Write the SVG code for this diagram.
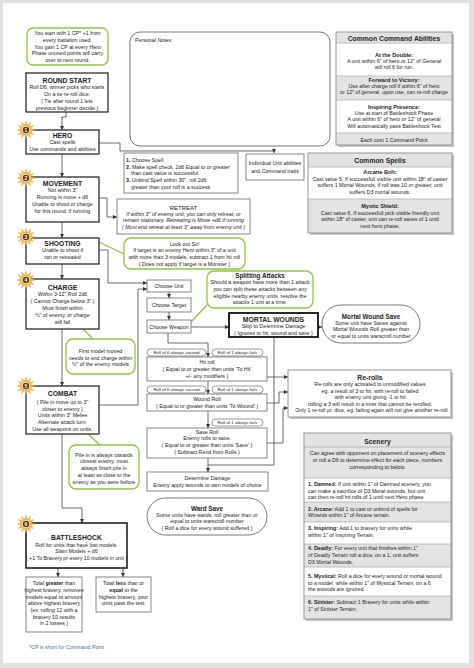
<svg xmlns="http://www.w3.org/2000/svg" width="474" height="668" viewBox="0 0 474 668">
<style>
text{font-family:"Liberation Sans",Arial,Helvetica,sans-serif;font-size:5.3px;fill:#222;text-anchor:middle}
.l{text-anchor:start}
.h{font-size:6.8px;font-weight:bold}
.h2{font-size:5.6px;font-weight:bold}
.b{font-weight:bold}
.i{font-style:italic}
.pill{font-size:4.4px}
.box{fill:#fff;stroke:#1a1a1a;stroke-width:1.2}
.gb{fill:#fff;stroke:#666;stroke-width:0.8}
.tb{fill:none;stroke:#8a8a8a;stroke-width:0.9}
.row{fill:#e3e3e3}
.div{stroke:#9a9a9a;stroke-width:0.6}
.gr{fill:#fff;stroke:#8dc63f;stroke-width:1.3}
.con{fill:none;stroke:#444;stroke-width:0.8}
.gl{fill:none;stroke:#8dc63f;stroke-width:1.3}
.sh{fill:#c4c4c4}
.num{font-size:5px;font-weight:bold;fill:#fff}
.cp{fill:#3d6ea6}
</style>
<defs>
<marker id="a" markerWidth="4" markerHeight="4" refX="4" refY="2" orient="auto" markerUnits="userSpaceOnUse"><path d="M0,0 L4,2 L0,4z" fill="#333"/></marker>
<g id="sun">
<polygon points="9,0 4.83,1.29 7.79,4.5 3.54,3.54 4.5,7.79 1.29,4.83 0,9 -1.29,4.83 -4.5,7.79 -3.54,3.54 -7.79,4.5 -4.83,1.29 -9,0 -4.83,-1.29 -7.79,-4.5 -3.54,-3.54 -4.5,-7.79 -1.29,-4.83 0,-9 1.29,-4.83 4.5,-7.79 3.54,-3.54 7.79,-4.5 4.83,-1.29" fill="#f6c35c" stroke="#e09530" stroke-width="0.4"/>
<circle r="4.8" fill="#fbe3a0" stroke="#c98220" stroke-width="0.5"/>
<circle r="3.2" fill="#5b3a12"/>
</g>
</defs>
<rect width="474" height="668" fill="#e1e1e1"/>
<rect x="3" y="3" width="466" height="660" fill="#fff"/>

<g id="connectors">
<path class="con" d="M66,112 V117 H62 V130" marker-end="url(#a)"/>
<path class="con" d="M99,143 H120 V151 H274 V153" marker-end="url(#a)"/>
<path class="con" d="M62,154 V177" marker-end="url(#a)"/>
<path class="con" d="M62,222 V238" marker-end="url(#a)"/>
<path class="con" d="M62,264 V279" marker-end="url(#a)"/>
<path class="con" d="M62,329 V386" marker-end="url(#a)"/>
<path class="con" d="M62,434 V508 H82 V523" marker-end="url(#a)"/>
<path class="con" d="M99,198 H107 V217 H117" marker-end="url(#a)"/>
<path class="con" d="M99,250 H108 V283 H147" marker-end="url(#a)"/>
<path class="con" d="M99,405 H138 V289 H147" marker-end="url(#a)"/>
<path class="con" d="M169,292 V298" marker-end="url(#a)"/>
<path class="con" d="M169,312 V320" marker-end="url(#a)"/>
<path class="con" d="M168,333 V343 H208 V357" marker-end="url(#a)"/>
<path class="con" d="M191,327 H229" stroke="#888" marker-end="url(#a)"/>
<path class="con" d="M318,327 H322" marker-end="url(#a)"/>
<path class="con" d="M208,381 V394" marker-end="url(#a)"/>
<path class="con" d="M208,411 V428" marker-end="url(#a)"/>
<path class="con" d="M208,458 V472" marker-end="url(#a)"/>
<path class="con" d="M274,337 V465 H208"/>
<path class="con" d="M267,377 H288" marker-end="url(#a)"/>
<path class="con" d="M267,403 H279 V392 H288" marker-end="url(#a)"/>
<path class="con" d="M267,443 H283 V408 H288" marker-end="url(#a)"/>
<path class="con" d="M58,568 V577" marker-end="url(#a)"/>
<path class="con" d="M123,568 V577" marker-end="url(#a)"/>
<path class="gl" d="M99,242 L124,254"/>
<path class="gl" d="M191,322 L207,305"/>
<path class="gl" d="M83,329 L93,339"/>
<path class="gl" d="M88,434 L100,445"/>
</g>

<g id="cp-note">
<rect class="gr" x="27" y="28" width="81" height="37" rx="6"/>
<text x="67.5" y="35">You start with 1 CP* +1 from</text>
<text x="67.5" y="42">every battalion used.</text>
<text x="67.5" y="48.5">You gain 1 CP at every Hero</text>
<text x="67.5" y="55">Phase unused points will carry</text>
<text x="67.5" y="62">over to next round.</text>
</g>

<g id="round-start">
<rect class="box" x="26" y="73" width="82" height="39"/>
<text class="h" x="67" y="82.5">ROUND START</text>
<text x="67" y="89">Roll D6, winner picks who starts</text>
<text x="67" y="96">On a tie re-roll dice.</text>
<text x="67" y="103">( Tie after round 1 lets</text>
<text x="67" y="110">previous beginner decide )</text>
</g>

<g id="personal-notes">
<rect x="130" y="32" width="200" height="114" rx="10" fill="#fff" stroke="#666" stroke-width="0.9"/>
<text class="l" x="135" y="41.5">Personal Notes:</text>
</g>

<g id="command-abilities">
<rect class="sh" x="338" y="34" width="116" height="113"/>
<rect x="336" y="32" width="116" height="113" fill="#fff"/>
<rect class="row" x="336" y="32" width="116" height="11"/>
<rect class="row" x="336" y="76" width="116" height="24"/>
<rect class="row" x="336" y="133" width="116" height="12"/>
<path class="div" d="M336,43 H452 M336,76 H452 M336,100 H452 M336,133 H452"/>
<rect class="tb" x="336" y="32" width="116" height="113"/>
<text class="h" x="394" y="40.5">Common Command Abilities</text>
<text class="h2" x="394" y="57">At the Double:</text>
<text x="394" y="63">A unit within 6" of hero or 12" of General</text>
<text x="394" y="69">will roll 6 for run.</text>
<text class="h2" x="394" y="82">Forward to Victory:</text>
<text x="394" y="88">Use after charge roll if within 6" of hero</text>
<text x="394" y="94">or 12" of general, upon use, can re-roll charge</text>
<text class="h2" x="394" y="109">Inspiring Presence:</text>
<text x="394" y="115">Use at start of Battleshock Phase</text>
<text x="394" y="121">A unit within 6" of hero or 12" of general</text>
<text x="394" y="127.5">Will automatically pass Battleshock Test</text>
<text x="394" y="141.5">Each cost 1 Command Point</text>
</g>

<g id="hero">
<rect class="box" x="26" y="130" width="73" height="24"/>
<use href="#sun" x="26" y="130"/>
<text class="num" x="26" y="131.8">1</text>
<text class="h" x="62.5" y="137.5">HERO</text>
<text x="62.5" y="144">Cast spells</text>
<text x="62.5" y="151">Use commands and abilities</text>
</g>

<g id="spell-steps">
<rect class="gb" x="124" y="153" width="114" height="40"/>
<text class="l" x="126" y="162"><tspan class="b">1.</tspan> Choose Spell</text>
<text class="l" x="126" y="168.5"><tspan class="b">2.</tspan> Make spell check. 2d6 Equal to or greater</text>
<text class="l" x="131" y="175">than cast value is successful</text>
<text class="l" x="126" y="181.5"><tspan class="b">3.</tspan> Unbind Spell within 30", roll 2d6</text>
<text class="l" x="131" y="188.5">greater than your roll is a success</text>
</g>

<g id="unit-abilities">
<rect class="gb" x="246" y="154" width="58" height="26"/>
<text x="275" y="165">Individual Unit abilities</text>
<text x="275" y="173">and Command traits</text>
</g>

<g id="common-spells">
<rect class="sh" x="310" y="155" width="144" height="80"/>
<rect x="308" y="153" width="144" height="80" fill="#fff"/>
<rect class="row" x="308" y="153" width="144" height="14"/>
<rect class="row" x="308" y="199" width="144" height="34"/>
<path class="div" d="M308,167 H452 M308,199 H452"/>
<rect class="tb" x="308" y="153" width="144" height="80"/>
<text class="h" x="380" y="162.5">Common Spells</text>
<text class="h2" x="380" y="174">Arcane Bolt:</text>
<text x="380" y="180.5">Cast value 5, If successfull visible unit within 18" of caster</text>
<text x="380" y="187">suffers 1 Mortal Wounds, if roll was 10 or greater, unit</text>
<text x="380" y="193.5">suffers D3 mortal wounds.</text>
<text class="h2" x="380" y="208">Mystic Shield:</text>
<text x="380" y="214.5">Cast value 6, If successfull pick visible friendly unit</text>
<text x="380" y="221">within 18" of caster, unit can re-roll saves of 1 until</text>
<text x="380" y="228">next hero phase.</text>
</g>

<g id="movement">
<rect class="box" x="26" y="177" width="73" height="45"/>
<use href="#sun" x="26" y="178"/>
<text class="num" x="26" y="179.8">2</text>
<text class="h" x="62.5" y="185.5">MOVEMENT</text>
<text x="62.5" y="192">Not within 3"</text>
<text x="62.5" y="199">Running is move + d6</text>
<text x="62.5" y="206">Unable to shoot or charge</text>
<text x="62.5" y="213">for this round, if running</text>
</g>

<g id="retreat">
<rect class="gb" x="117" y="199" width="133" height="35"/>
<text x="183.5" y="209.5" style="font-size:6px">RETREAT</text>
<text class="i" x="183.5" y="215.5">If within 3" of enemy unit, you can only retreat, or</text>
<text class="i" x="183.5" y="222">remain stationary. Retreating is Move +d6 if running</text>
<text class="i" x="183.5" y="229">( Must end retreat at least 3" away from enemy unit )</text>
</g>

<g id="shooting">
<rect class="box" x="26" y="238" width="73" height="26"/>
<use href="#sun" x="26" y="237"/>
<text class="num" x="26" y="238.8">3</text>
<text class="h" x="62.5" y="245.5">SHOOTING</text>
<text x="62.5" y="252">Unable to shoot if</text>
<text x="62.5" y="259">ran or retreated</text>
</g>

<g id="look-out-sir">
<rect class="gr" x="124" y="238" width="121" height="31" rx="7"/>
<text x="184.5" y="245.5">Look out Sir!</text>
<text x="184.5" y="252">If target is an enemy Hero within 3" of a unit</text>
<text x="184.5" y="259">with more than 3 models, subtract 1 from hit roll</text>
<text x="184.5" y="265.5">( Does not apply if target is a Monster )</text>
</g>

<g id="charge">
<rect class="box" x="26" y="279" width="73" height="50"/>
<use href="#sun" x="26" y="280"/>
<text class="num" x="26" y="281.8">4</text>
<text class="h" x="62.5" y="289.5">CHARGE</text>
<text x="62.5" y="296">Within 3-12" Roll 2d6</text>
<text x="62.5" y="303">( Cannot Charge below 3" )</text>
<text x="62.5" y="310">Must finish within</text>
<text x="62.5" y="317">½" of enemy, or charge</text>
<text x="62.5" y="323.5">will fail</text>
</g>

<g id="choose-unit">
<rect class="gb" x="147" y="280" width="44" height="12"/>
<text x="169" y="288">Choose Unit</text>
</g>
<g id="choose-target">
<rect class="gb" x="147" y="298" width="44" height="14"/>
<text x="169" y="307">Choose Target</text>
</g>
<g id="choose-weapon">
<rect class="gb" x="147" y="320" width="44" height="13"/>
<text x="169" y="328.5">Choose Weapon</text>
</g>

<g id="splitting-attacks">
<rect class="gr" x="207" y="271" width="106" height="37" rx="7"/>
<text class="h" x="260" y="277.5" style="font-size:6.3px">Splitting Attacks</text>
<text x="260" y="284">Should a weapon have more than 1 attack</text>
<text x="260" y="291">you can split these attacks between any</text>
<text x="260" y="298">eligible nearby enemy units, resolve the</text>
<text x="260" y="304">attacks 1 unit at a time.</text>
</g>

<g id="mortal-wounds">
<rect x="229" y="313" width="89" height="24" fill="#fff" stroke="#111" stroke-width="1.8"/>
<text class="h" x="273.5" y="321.5">MORTAL WOUNDS</text>
<text x="273.5" y="328">Skip to Determine Damage</text>
<text x="273.5" y="335">( Ignores to hit, wound and save )</text>
</g>

<g id="mortal-wound-save">
<rect x="322" y="305" width="98" height="38" rx="19" fill="#fff" stroke="#555" stroke-width="0.8"/>
<text class="h" x="371" y="318.5" style="font-size:6.3px">Mortal Wound Save</text>
<text x="371" y="324.5">Some unit have Saves against</text>
<text x="371" y="331">Mortal Wounds Roll greater than</text>
<text x="371" y="338">or equal to units warscroll number</text>
</g>

<g id="first-model">
<rect class="gr" x="66" y="339" width="69" height="35" rx="7"/>
<text x="100.5" y="353">First model moved</text>
<text x="100.5" y="360">needs to end charge within</text>
<text x="100.5" y="366">½" of the enemy models</text>
</g>

<g id="hit-roll">
<rect x="147" y="349" width="59" height="7" rx="3.5" fill="#fff" stroke="#555" stroke-width="0.6"/>
<text class="pill" x="176.5" y="354.2">Roll of 6 always suceed</text>
<rect x="212" y="349" width="51" height="7" rx="3.5" fill="#fff" stroke="#555" stroke-width="0.6"/>
<text class="pill" x="237.5" y="354.2">Roll of 1 always fails</text>
<rect class="gb" x="147" y="357" width="120" height="24"/>
<text x="207" y="364">Hit roll</text>
<text x="207" y="371">( Equal to or greater than units 'To Hit'</text>
<text x="207" y="378">+/- any modifiers )</text>
</g>

<g id="wound-roll">
<rect x="147" y="386" width="59" height="7" rx="3.5" fill="#fff" stroke="#555" stroke-width="0.6"/>
<text class="pill" x="176.5" y="391.2">Roll of 6 always suceed</text>
<rect x="212" y="386" width="51" height="7" rx="3.5" fill="#fff" stroke="#555" stroke-width="0.6"/>
<text class="pill" x="237.5" y="391.2">Roll of 1 always fails</text>
<rect class="gb" x="147" y="394" width="120" height="17"/>
<text x="207" y="401">Wound Roll</text>
<text x="207" y="408">( Equal to or greater than units 'To Wound' )</text>
</g>

<g id="save-roll">
<rect x="212" y="419" width="51" height="7" rx="3.5" fill="#fff" stroke="#555" stroke-width="0.6"/>
<text class="pill" x="237.5" y="424.2">Roll of 1 always fails</text>
<rect class="gb" x="147" y="428" width="120" height="30"/>
<text x="207" y="434">Save Roll</text>
<text x="207" y="440">Enemy rolls to save.</text>
<text x="207" y="447">( Equal to or greater than units 'Save' )</text>
<text x="207" y="454">( Subtract Rend from Rolls )</text>
</g>

<g id="determine-damage">
<rect class="gb" x="147" y="472" width="121" height="19"/>
<text x="207.5" y="480">Determine Damage</text>
<text x="207.5" y="487">Enemy apply wounds to own models of choice</text>
</g>

<g id="re-rolls">
<rect class="sh" x="290" y="372" width="163" height="47"/>
<rect x="288" y="370" width="163" height="47" fill="#fff" stroke="#8a8a8a" stroke-width="0.9"/>
<text class="h" x="370" y="379.5">Re-rolls</text>
<text x="370" y="386">Re-rolls are only activated to unmodified values</text>
<text x="370" y="392.5">eg. a result of 3 to hit, with re-roll to failed</text>
<text x="370" y="399">with enemy unit giving -1 to hit</text>
<text x="370" y="405.5">rolling a 3 will result in a miss that cannot be rerolled.</text>
<text x="372" y="412">Only 1 re-roll pr. dice, eg. failing again will not give another re-roll.</text>
</g>

<g id="combat">
<rect class="box" x="26" y="386" width="73" height="48"/>
<use href="#sun" x="26" y="386"/>
<text class="num" x="26" y="387.8">5</text>
<text class="h" x="62.5" y="395.5">COMBAT</text>
<text x="62.5" y="404">( Pile in move up to 3"</text>
<text x="62.5" y="411">closer to enemy )</text>
<text x="62.5" y="417">Units within 3" Melee</text>
<text x="62.5" y="424">Alternate attack turn.</text>
<text x="62.5" y="431">Use all weapons on units.</text>
</g>

<g id="pile-in">
<rect class="gr" x="69" y="445" width="70" height="44" rx="7"/>
<text x="104" y="457">Pile in is always towards</text>
<text x="104" y="463">closest enemy,  must</text>
<text x="104" y="470">always finish pile in</text>
<text x="104" y="477">at least as close to the</text>
<text x="104" y="484">enemy as you were before</text>
</g>

<g id="scenery">
<rect class="sh" x="306" y="435" width="147" height="186"/>
<rect x="304" y="433" width="147" height="186" fill="#fff"/>
<rect class="row" x="304" y="433" width="147" height="45"/>
<rect class="row" x="304" y="502" width="147" height="20"/>
<rect class="row" x="304" y="544" width="147" height="23"/>
<rect class="row" x="304" y="596" width="147" height="23"/>
<path class="div" d="M304,447 H451 M304,478 H451 M304,502 H451 M304,522 H451 M304,544 H451 M304,567 H451 M304,596 H451"/>
<rect class="tb" x="304" y="433" width="147" height="186"/>
<text class="h" x="377.5" y="443.5">Scenery</text>
<text x="377.5" y="455">Can agree with opponent on placement of scenery effects</text>
<text x="377.5" y="462">or roll a D6 to determine effect for each piece, numbers</text>
<text x="377.5" y="469">corresponding to below.</text>
<text class="l" x="308" y="486"><tspan class="b">1. Damned:</tspan> If unit within 1" of Damned scenery, you</text>
<text class="l" x="308" y="493">can make a sacrifice of D3 Moral wounds, but unit</text>
<text class="l" x="308" y="499">can then re-roll hit rolls of 1 until next Hero phase</text>
<text class="l" x="308" y="511"><tspan class="b">2. Arcane:</tspan> Add 1 to cast or unbind of spells for</text>
<text class="l" x="308" y="517">Wizards within 1" of Arcane terrain.</text>
<text class="l" x="308" y="530"><tspan class="b">3. Inspiring:</tspan> Add 1 to bravery for units while</text>
<text class="l" x="308" y="537">within 1" of Inspiring Terrain.</text>
<text class="l" x="308" y="550"><tspan class="b">4. Deadly:</tspan> For every unit that finishes within 1"</text>
<text class="l" x="308" y="557">of Deadly Terrain roll a dice, on a 1, unit suffers</text>
<text class="l" x="308" y="564">D3 Mortal Wounds.</text>
<text class="l" x="308" y="578"><tspan class="b">5. Mystical:</tspan> Roll a dice for every wound or mortal wound</text>
<text class="l" x="308" y="584.5">to a model, while within 1" of Mystical Terrain, on a 6</text>
<text class="l" x="308" y="591">the wounds are ignored.</text>
<text class="l" x="308" y="604"><tspan class="b">6. Sinister:</tspan> Subtract 1 Bravery for units while within</text>
<text class="l" x="308" y="611">1" of Sinister Terrain.</text>
</g>

<g id="ward-save">
<rect x="147" y="498" width="120" height="37" rx="18.5" fill="#fff" stroke="#555" stroke-width="0.8"/>
<text class="h" x="207" y="510.5" style="font-size:6.3px">Ward Save</text>
<text x="207" y="517">Some units have wards, roll greater than or</text>
<text x="207" y="523">equal to units warscroll number</text>
<text x="207" y="530">( Roll a dice for every wound suffered )</text>
</g>

<g id="battleshock">
<rect x="26" y="523" width="101" height="45" fill="#fff" stroke="#111" stroke-width="1.5"/>
<use href="#sun" x="26" y="524"/>
<text class="num" x="26" y="525.8">6</text>
<text class="h" x="76.5" y="539.5">BATTLESHOCK</text>
<text x="76.5" y="547">Roll for units that have lost models.</text>
<text x="76.5" y="553">Slain Models + d6</text>
<text x="76.5" y="560">( +1 To Bravery pr every 10 models in unit )</text>
</g>

<g id="bs-fail">
<rect class="gb" x="26" y="577" width="56" height="55"/>
<text x="54" y="585">Total <tspan class="b">greater</tspan> than</text>
<text x="54" y="592">highest bravery, removes</text>
<text x="54" y="599">models equal to amount</text>
<text x="54" y="605">above highest bravery</text>
<text x="54" y="612">(ex: rolling 12 with a</text>
<text x="54" y="619">bravery 10 results</text>
<text x="54" y="625">in 2 losses )</text>
</g>

<g id="bs-pass">
<rect class="gb" x="96" y="577" width="55" height="35"/>
<text x="123.5" y="585">Total <tspan class="b">less</tspan> than or</text>
<text x="123.5" y="592"><tspan class="b">equal</tspan> to the</text>
<text x="123.5" y="599">highest bravery, your</text>
<text x="123.5" y="605">units pass the test.</text>
</g>

<text class="l cp" x="29" y="649">*CP is short for Command Point</text>
</svg>
